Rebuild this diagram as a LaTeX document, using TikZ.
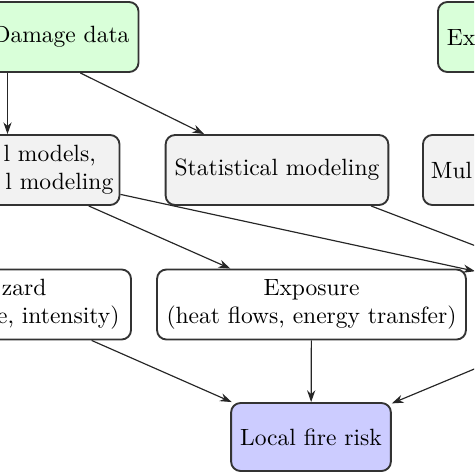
\documentclass[tikz,border=0pt]{standalone}
\usetikzlibrary{arrows.meta}
\tikzset{
  box/.style={draw=black!80, line width=0.8pt, rounded corners=4pt,
    minimum height=29.75pt, inner xsep=3.825pt},
  arr/.style={-{Stealth[length=5pt,width=3.5pt]}, line width=0.5pt, draw=black!85},
  greenbox/.style={box, fill=green!15},
  graybox/.style={box, fill=black!5},
  whitebox/.style={box, fill=white},
  bluebox/.style={box, fill=blue!20},
}
\begin{document}
\begin{tikzpicture}[x=0.425pt, y=-0.425pt]
\useasboundingbox (0,0) rectangle (474,474);
\clip (0,0) rectangle (474,474);
% row 1
\node[greenbox, text width=103.7pt, align=right] (damage) at (7.5,37) {Damage data};
\node[greenbox, anchor=west, text width=77pt, align=left] (ex) at (437,37) {Ex};
% row 2
\node[graybox, text width=87.55pt, align=left] (models) at (7.5,170)
  {\hspace*{42.1pt}\makebox[0pt][l]{l models,}\\\hspace*{42.9pt}\makebox[0pt][l]{l modeling}};
\node[graybox, minimum width=94.35pt] (stat) at (277,170) {Statistical modeling};
\node[graybox, anchor=west, text width=77pt, align=left, inner xsep=3.4pt] (mul) at (422,170) {Mul};
% row 3
\node[whitebox, text width=95.2pt, align=left] (hazard) at (10,304.5)
  {\hspace*{44.2pt}\makebox[0pt][l]{zard}\\\hspace*{42.1pt}\makebox[0pt][l]{e, intensity)}};
\node[whitebox, minimum width=131.3pt, align=center] (exposure) at (311.5,304.5)
  {Exposure\\(heat flows, energy transfer)};
\node[whitebox, minimum width=130pt] (vul) at (629,304.5) {};
% row 4
\node[bluebox, minimum width=67.15pt, minimum height=28.9pt] (local) at (311,437) {Local fire risk};
% connectors
\draw[arr] (damage) -- (models);
\draw[arr] (damage) -- (stat);
\draw[arr] (models) -- (exposure);
\draw[arr] (models) -- (vul);
\draw[arr] (stat) -- (vul);
\draw[arr] (hazard) -- (local);
\draw[arr] (exposure) -- (local);
\draw[arr] (vul) -- (local);
\end{tikzpicture}
\end{document}
